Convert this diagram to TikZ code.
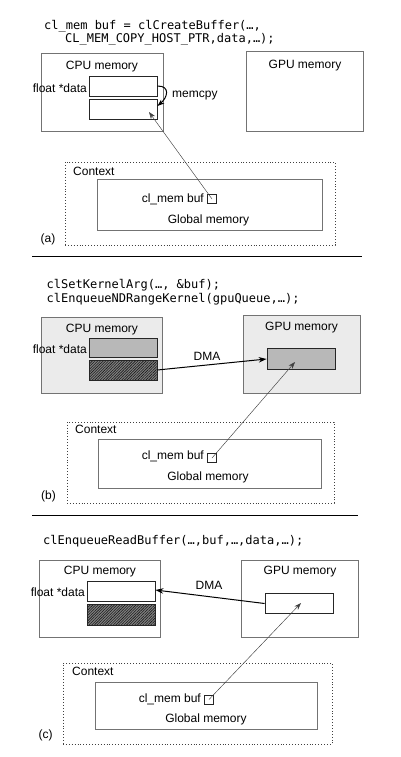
\documentclass[tikz,border=0pt]{standalone}
\usepackage{fontspec}
\setmainfont{Liberation Sans}
\newfontfamily\codefont{DejaVu Sans Mono}
\usetikzlibrary{arrows.meta,patterns.meta,fit}
\begin{document}
\begin{tikzpicture}[x=1pt,y=-1pt,
  membox/.style={draw=black!55, line width=0.5pt, inner sep=0pt},
  memfill/.style={membox, fill=black!8},
  cell/.style={draw=black!85, line width=0.8pt, inner sep=0pt},
  cellgray/.style={cell, fill=black!28},
  cellhatch/.style={cell, preaction={fill=black!50}, pattern={Lines[angle=45,distance=1.9pt,line width=0.6pt]}, pattern color=black!90},
  ctx/.style={draw=black!75, dotted, line width=0.9pt, inner sep=0pt},
  glob/.style={draw=black!55, line width=0.5pt, inner sep=0pt},
  sq/.style={draw=black!85, line width=0.6pt, minimum size=9pt, inner sep=0pt},
  lbl/.style={font=\fontsize{12}{14}\selectfont, inner sep=0pt},
  code/.style={font=\codefont\fontsize{12}{14}\selectfont, anchor=base west, inner sep=0pt},
  ptr/.style={draw=black!75, line width=0.45pt, -{Stealth[length=7pt,width=5pt]}},
  dma/.style={draw=black, line width=1pt, -{Stealth[length=8pt,width=5.5pt]}},
  copyarrow/.style={draw=black, line width=1pt, -{Stealth[length=7pt,width=5pt]}},
  sep/.style={draw=black, line width=1pt}
]
\useasboundingbox (0,0) rectangle (400,757);

% ================= (a) =================
\node[code] (codeA1) at (44,30) {cl\_mem buf = clCreateBuffer(…,};
\node[code] (codeA2) at (65,43) {CL\_MEM\_COPY\_HOST\_PTR,data,…);};
\node[membox, fit={(41,53) (163,131)}] (cpuA) {};
\node[membox, fit={(246,51) (363,131)}] (gpuA) {};
\node[lbl] (cpuAt) at (102,66.5) {CPU memory};
\node[lbl] (gpuAt) at (305,65.5) {GPU memory};
\node[cell, fit={(89,76) (157,96)}] (dA1) {};
\node[cell, fit={(89,99) (157,119)}] (dA2) {};
\node[lbl, anchor=east] (fA) at (87,88) {float *data};
\draw[copyarrow] (dA1.east) to[out=0,in=40,looseness=1.7] ([yshift=3pt]dA2.east);
\node[lbl, anchor=west] (memcpy) at (172,95.5) {memcpy};
\node[ctx, fit={(65,162) (335,245)}] (ctxA) {};
\node[lbl, anchor=west] (ctxAt) at (73,171.5) {Context};
\node[glob, fit={(97,179) (322,230)}] (globA) {};
\node[lbl, anchor=east] (bufA) at (204,199.5) {cl\_mem buf};
\node[sq] (sqA) at (212,199) {};
\node[lbl] (globAt) at (208.5,220) {Global memory};
\node[lbl] (la) at (48,239) {(a)};
\draw[ptr] (sqA.center) -- (149,112);
\coordinate (sepA1) at (32,256);
\coordinate (sepA2) at (362,256);
\draw[sep] (sepA1) -- (sepA2);

% ================= (b) =================
\node[code] (codeB1) at (46.5,288) {clSetKernelArg(…, \&buf);};
\node[code] (codeB2) at (46.5,302) {clEnqueueNDRangeKernel(gpuQueue,…);};
\node[memfill, fit={(41,317) (162,393)}] (cpuB) {};
\node[memfill, fit={(243,315) (360,393)}] (gpuB) {};
\node[lbl] (cpuBt) at (102,330) {CPU memory};
\node[lbl] (gpuBt) at (301.5,328) {GPU memory};
\node[cellgray, fit={(89,338) (157,357)}] (dB1) {};
\node[cellhatch, fit={(89,360) (157,380)}] (dB2) {};
\node[lbl, anchor=east] (fB) at (87,349) {float *data};
\node[cellgray, fit={(267,348) (335,369)}] (gB) {};
\draw[dma] (dB2.east) -- ([yshift=-0.5pt]gB.west);
\node[lbl] (dmaB) at (207,356) {DMA};
\node[ctx, fit={(67,422) (334,503)}] (ctxB) {};
\node[lbl, anchor=west] (ctxBt) at (75,429) {Context};
\node[glob, fit={(98,439) (321,488)}] (globB) {};
\node[lbl, anchor=east] (bufB) at (204,456.5) {cl\_mem buf};
\node[sq] (sqB) at (212,458) {};
\node[lbl] (globBt) at (208,477) {Global memory};
\node[lbl] (lb) at (48.5,496) {(b)};
\draw[ptr] (sqB.center) -- (295,362);
\coordinate (sepB1) at (32,515);
\coordinate (sepB2) at (358,515);
\draw[sep] (sepB1) -- (sepB2);

% ================= (c) =================
\node[code] (codeC1) at (43,544) {clEnqueueReadBuffer(…,buf,…,data,…);};
\node[membox, fit={(39,560) (160,637)}] (cpuC) {};
\node[membox, fit={(241,560) (358,637)}] (gpuC) {};
\node[lbl] (cpuCt) at (100,572) {CPU memory};
\node[lbl] (gpuCt) at (300,572) {GPU memory};
\node[cell, fit={(87,581) (155,601)}] (dC1) {};
\node[cellhatch, fit={(87,604) (155,625)}] (dC2) {};
\node[lbl, anchor=east] (fC) at (85,592) {float *data};
\node[cell, fit={(265,593) (333,613)}] (gC) {};
\draw[dma] ([yshift=-0.5pt]gC.west) -- ([yshift=1pt]dC1.east);
\node[lbl] (dmaC) at (209,585) {DMA};
\node[ctx, fit={(63,663) (332,744)}] (ctxC) {};
\node[lbl, anchor=west] (ctxCt) at (72,671.5) {Context};
\node[glob, fit={(95,682) (317,729)}] (globC) {};
\node[lbl, anchor=east] (bufC) at (201,699) {cl\_mem buf};
\node[sq] (sqC) at (209,699.5) {};
\node[lbl] (globCt) at (206,719.5) {Global memory};
\node[lbl] (lc) at (45.5,735) {(c)};
\draw[ptr] (sqC.center) -- (301,603);
\end{tikzpicture}
\end{document}
